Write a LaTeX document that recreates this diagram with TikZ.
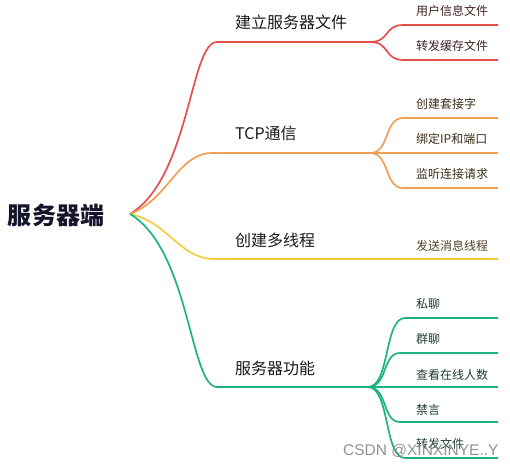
\documentclass[tikz,border=0pt]{standalone}
\usepackage{fontspec}
\setmainfont{Noto Sans CJK SC}
\newfontfamily\wmfont{Liberation Sans}
\definecolor{cred}{HTML}{E5504F}
\definecolor{corange}{HTML}{F0A055}
\definecolor{cyellow}{HTML}{F5CC3F}
\definecolor{cgreen}{HTML}{1DB47E}
\definecolor{tred}{HTML}{3D2222}
\definecolor{torange}{HTML}{3D2E1A}
\definecolor{tyellow}{HTML}{4D4326}
\definecolor{tgreen}{HTML}{1F3D33}
\definecolor{troot}{HTML}{14142B}
\begin{document}
\begin{tikzpicture}[x=1pt,y=-1pt,
  conn/.style={line width=1.7pt},
  mainlbl/.style={anchor=west,inner sep=0pt,font=\fontsize{16}{18}\selectfont,text=black!90},
  sublbl/.style={anchor=west,inner sep=0pt,font=\fontsize{12}{14}\selectfont}]
\useasboundingbox (0,0) rectangle (510,466);

\node[inner sep=0pt,font=\fontsize{24}{28}\selectfont\bfseries,text=troot] (root) at (56,215) {服务器端};
\coordinate (o) at (130,214);

% branch 1
\coordinate (b1a) at (217,42);
\coordinate (b1j) at (370,42);
\node[mainlbl] (l1) at (235,22) {建立服务器文件};
\draw[conn,cred] (o) .. controls (190,178) and (190,42) .. (b1a) -- (b1j);
\coordinate (c11a) at (403,25); \coordinate (c11b) at (498,25);
\coordinate (c12a) at (403,60); \coordinate (c12b) at (498,60);
\draw[conn,cred] (b1j) .. controls (390,42) and (384,25) .. (c11a) -- (c11b);
\draw[conn,cred] (b1j) .. controls (390,42) and (384,60) .. (c12a) -- (c12b);
\node[sublbl,text=tred] (l11) at (416,11) {用户信息文件};
\node[sublbl,text=tred] (l12) at (416,46) {转发缓存文件};

% branch 2
\coordinate (b2a) at (212,153);
\coordinate (b2j) at (370,153);
\node[mainlbl] (l2) at (235,133) {TCP通信};
\draw[conn,corange] (o) .. controls (168,200) and (178,153) .. (b2a) -- (b2j);
\coordinate (c21a) at (403,118); \coordinate (c21b) at (498,118);
\coordinate (c22b) at (498,153);
\coordinate (c23a) at (403,188); \coordinate (c23b) at (498,188);
\draw[conn,corange] (b2j) .. controls (390,153) and (384,118) .. (c21a) -- (c21b);
\draw[conn,corange] (b2j) -- (c22b);
\draw[conn,corange] (b2j) .. controls (390,153) and (384,188) .. (c23a) -- (c23b);
\node[sublbl,text=torange] (l21) at (416,104) {创建套接字};
\node[sublbl,text=torange] (l22) at (416,139) {绑定IP和端口};
\node[sublbl,text=torange] (l23) at (416,174) {监听连接请求};

% branch 3
\coordinate (b3a) at (214,259);
\coordinate (b3e) at (498,259);
\node[mainlbl] (l3) at (235,240) {创建多线程};
\draw[conn,cyellow] (o) .. controls (168,222) and (180,259) .. (b3a) -- (b3e);
\node[sublbl,text=tyellow] (l31) at (416,246) {发送消息线程};

% branch 4
\coordinate (b4a) at (217,387);
\coordinate (b4j) at (368,387);
\node[mainlbl] (l4) at (235,368) {服务器功能};
\draw[conn,cgreen] (o) .. controls (190,250) and (190,387) .. (b4a) -- (b4j);
\coordinate (c41a) at (405,318); \coordinate (c41b) at (498,318);
\coordinate (c42a) at (400,353); \coordinate (c42b) at (498,353);
\coordinate (c43b) at (498,387);
\coordinate (c44a) at (400,422); \coordinate (c44b) at (498,422);
\coordinate (c45a) at (405,458); \coordinate (c45b) at (498,458);
\draw[conn,cgreen] (b4j) .. controls (390,387) and (384,318) .. (c41a) -- (c41b);
\draw[conn,cgreen] (b4j) .. controls (388,387) and (382,353) .. (c42a) -- (c42b);
\draw[conn,cgreen] (b4j) -- (c43b);
\draw[conn,cgreen] (b4j) .. controls (388,387) and (382,422) .. (c44a) -- (c44b);
\draw[conn,cgreen] (b4j) .. controls (390,387) and (384,458) .. (c45a) -- (c45b);
\node[sublbl,text=tgreen] (l41) at (416,304) {私聊};
\node[sublbl,text=tgreen] (l42) at (416,339) {群聊};
\node[sublbl,text=tgreen] (l43) at (416,375) {查看在线人数};
\node[sublbl,text=tgreen] (l44) at (416,410) {禁言};
\node[sublbl,text=tgreen] (l45) at (416,444) {转发文件};

% watermark
\node[anchor=west,inner sep=0pt,font=\wmfont\fontsize{15.5}{17}\selectfont,text=black!50,opacity=0.85] (wm) at (343,451) {CSDN @XINXINYE..Y};
\end{tikzpicture}
\end{document}
